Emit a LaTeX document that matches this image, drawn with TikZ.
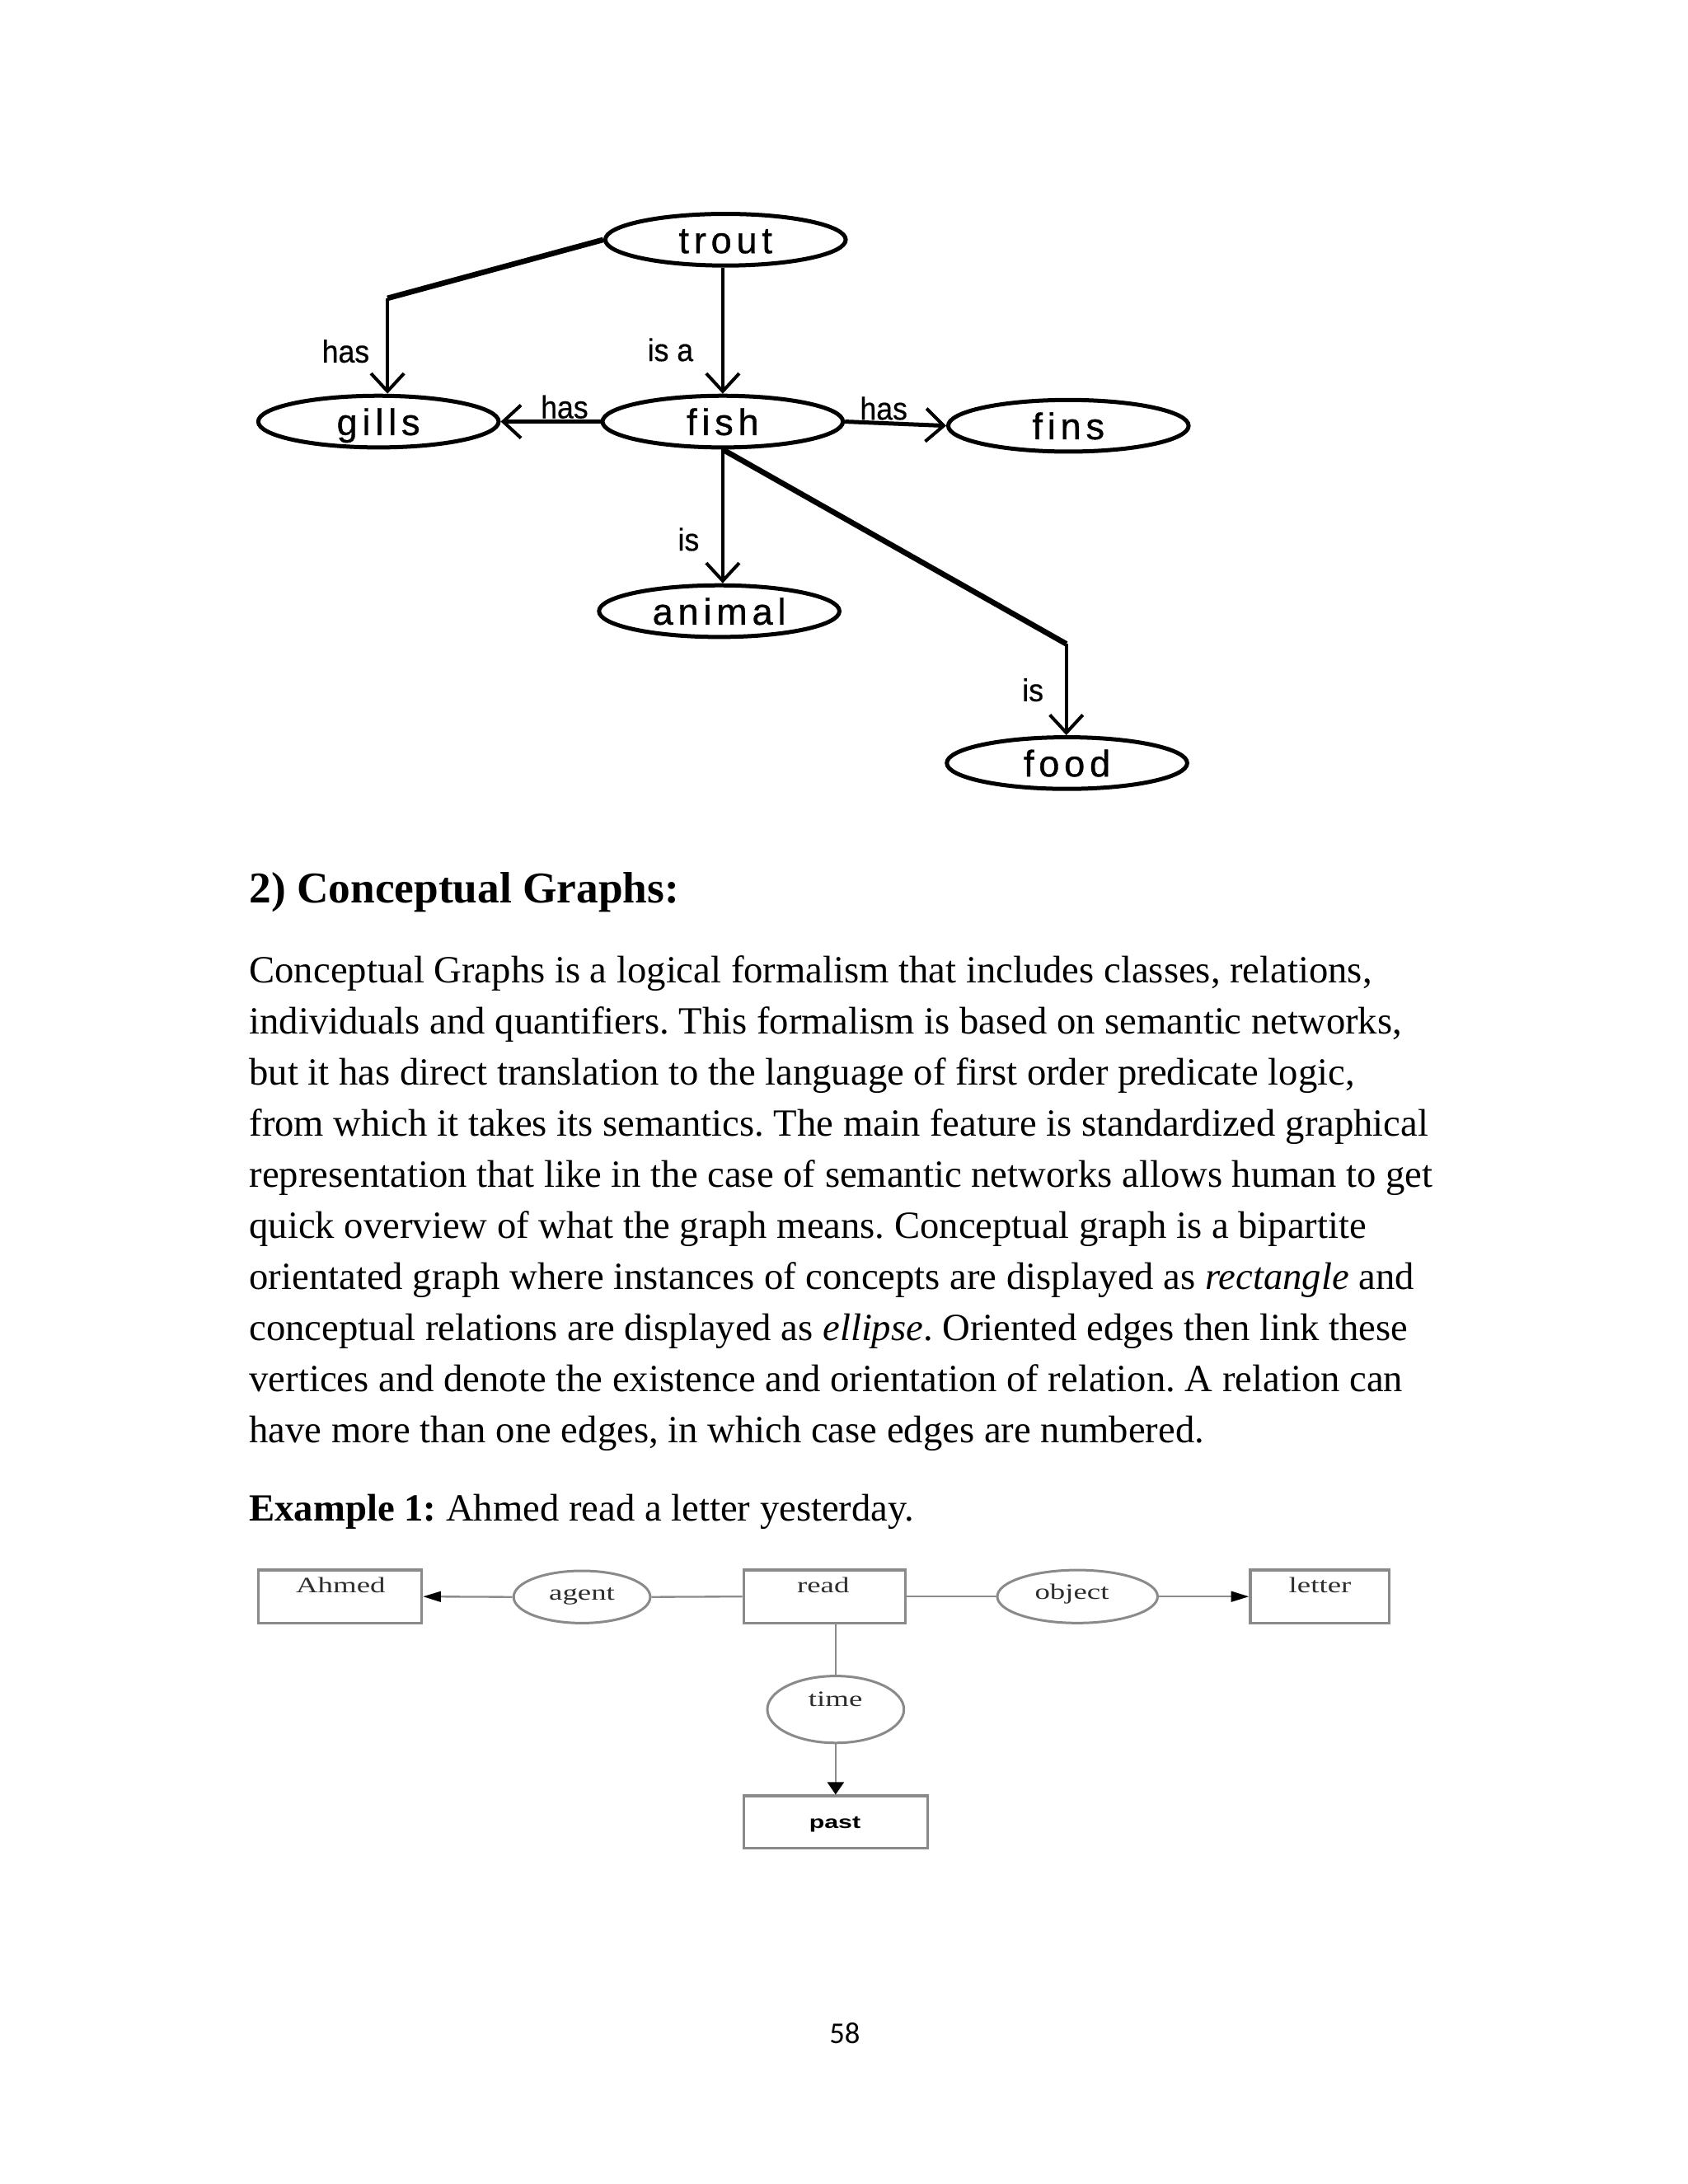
\documentclass[tikz,border=0pt]{standalone}
\usepackage{fontspec}
\setmainfont{Liberation Serif}
\newfontfamily\arialfont{Liberation Sans}
\newfontfamily\arialedge{Liberation Sans}[FakeStretch=0.93,FakeBold=0.4]
\newfontfamily\arialsp{Liberation Sans}[LetterSpace=13,FakeBold=0.8]
\newfontfamily\calfont{Carlito}
\usetikzlibrary{shapes.geometric,arrows.meta}
\definecolor{cgline}{HTML}{8C8C8C}
\definecolor{cgbox}{HTML}{8A8A8A}
\definecolor{cgtext}{HTML}{2E2E2E}
\def\du{0.50735pt}
\newcommand\widetxt[1]{\scalebox{1.38}[1]{#1}}
\frenchspacing
\begin{document}
\begin{tikzpicture}[x=0.50735pt,y=-0.50735pt,
  sem/.style={ellipse,draw=black,line width=1.5pt,inner sep=0pt,
    minimum width=87.5pt,minimum height=18.8pt,
    font=\arialsp\fontsize{13.5}{14}\selectfont,text height=9.8pt,text depth=0pt},
  semedge/.style={line width=1.1pt},
  semhor/.style={line width=1.5pt},
  semthick/.style={line width=2pt},
  barb/.style={-{Straight Barb[length=6.5pt,width=12pt,line width=1.2pt]}},
  elab/.style={font=\arialedge\fontsize{11.5}{12}\selectfont,inner sep=0pt},
  body/.style={anchor=base west,inner sep=0pt,font=\fontsize{14}{16}\selectfont},
  cgrect/.style={rectangle,draw=cgbox,line width=1pt,inner sep=0pt},
  cgell/.style={ellipse,draw=cgbox,line width=0.9pt,inner sep=0pt},
  cgconn/.style={draw=cgline,line width=0.7pt},
  cglab/.style={anchor=base,inner sep=0pt,text=cgtext,font=\fontsize{8}{9}\selectfont},
  harr/.style={-{Triangle[length=6.5pt,width=3.8pt,color=black]}},
  varr/.style={-{Triangle[length=4.5pt,width=6pt,color=black]}}
]
\fill[white] (0,0) rectangle (1211,1567);
\useasboundingbox (0,0) rectangle (1211,1567);

% ---------- semantic network ----------
\node[sem] (trout)  at (520.5,172)   {trout};
\node[sem] (fish)   at (518.5,302.5) {fish};
\node[sem] (gills)  at (271.5,302.5) {gills};
\node[sem] (fins)   at (766.5,305.5) {fins};
\node[sem] (animal) at (516,438.5)   {animal};
\node[sem] (food)   at (765.5,547.5) {food};

\coordinate (b1) at (278,214);
\coordinate (b2) at (765,462);
\draw[semthick] (trout.west) -- (b1);
\draw[semedge,barb] (b1) -- (b1 |- gills.north);
\draw[semedge,barb] (trout.south -| fish.north) -- (fish.north);
\draw[semhor,barb] (fish.west) -- (gills.east);
\draw[semhor,barb] (fish.east) -- (fins.west);
\draw[semedge,barb] (fish.south) -- (fish.south |- animal.north);
\draw[semthick] (fish.south) -- (b2);
\draw[semedge,barb] (b2) -- (b2 |- food.north);

\node[elab] (l1) at (248,252) {has};
\node[elab] (l2) at (481,251) {is a};
\node[elab] (l3) at (405,292) {has};
\node[elab] (l4) at (634,293) {has};
\node[elab] (l5) at (494,387) {is};
\node[elab] (l6) at (741,495) {is};

% ---------- text ----------
\node[anchor=base west,inner sep=0pt,font=\bfseries\fontsize{16}{18}\selectfont] (head) at (178.5,648) {2) Conceptual Graphs:};
\node[body] (p1)  at (178.5,705.3)  {Conceptual Graphs is a logical formalism that includes classes, relations,};
\node[body] (p2)  at (178.5,742.0)  {individuals and quantifiers. This formalism is based on semantic networks,};
\node[body] (p3)  at (178.5,778.6)  {but it has direct translation to the language of first order predicate logic,};
\node[body] (p4)  at (178.5,815.3)  {from which it takes its semantics. The main feature is standardized graphical};
\node[body] (p5)  at (178.5,851.9)  {representation that like in the case of semantic networks allows human to get};
\node[body] (p6)  at (178.5,888.6)  {quick overview of what the graph means. Conceptual graph is a bipartite};
\node[body] (p7)  at (178.5,925.2)  {orientated graph where instances of concepts are displayed as \textit{rectangle} and};
\node[body] (p8)  at (178.5,961.9)  {conceptual relations are displayed as \textit{ellipse}. Oriented edges then link these};
\node[body] (p9)  at (178.5,998.5)  {vertices and denote the existence and orientation of relation. A relation can};
\node[body] (p10) at (178.5,1035.2) {have more than one edges, in which case edges are numbered.};
\node[body] (ex)  at (178.5,1091)   {\textbf{Example 1:} Ahmed read a letter yesterday.};

% ---------- conceptual graph ----------
\node[cgrect,minimum width=117*\du,minimum height=38*\du] (ahmed)  at (244,1145.5)   {};
\node[cgell, minimum width=98*\du, minimum height=37.5*\du] (agent) at (417.5,1145.8) {};
\node[cgrect,minimum width=116*\du,minimum height=38*\du] (read)   at (591.5,1145.5) {};
\node[cgell, minimum width=115*\du,minimum height=38*\du] (object) at (773,1145.5)   {};
\node[cgrect,minimum width=99.5*\du,minimum height=38*\du] (letter) at (946.8,1145.5) {};
\node[cgell, minimum width=98*\du, minimum height=48*\du] (time)   at (599.5,1226.5) {};
\node[cgrect,minimum width=132*\du,minimum height=37.5*\du] (past) at (599.5,1307.3) {};

\node[cglab] (tahmed)  at (244.4,1143)  {\widetxt{Ahmed}};
\node[cglab] (tagent)  at (417.5,1147.8) {\widetxt{agent}};
\node[cglab] (tread)   at (590.6,1142.6) {\widetxt{read}};
\node[cglab] (tobject) at (769,1147.6)  {\widetxt{object}};
\node[cglab] (tletter) at (947,1142.6)  {\widetxt{letter}};
\node[cglab] (ttime)   at (599.4,1224.5) {\widetxt{time}};
\node[anchor=base,inner sep=0pt,font=\arialfont\bfseries\fontsize{6.5}{8}\selectfont] (tpast) at (599,1312) {\scalebox{1.4}[1]{past}};

\draw[cgconn,harr] (agent.west) -- (ahmed.east);
\draw[cgconn] (agent.east) -- (read.west);
\draw[cgconn] (read.east) -- (object.west);
\draw[cgconn,harr] (object.east) -- (letter.west);
\draw[cgconn] (read.south -| time.north) -- (time.north);
\draw[cgconn,varr] (time.south) -- (past.north);

% ---------- page number ----------
\node[anchor=base,inner sep=0pt,font=\calfont\fontsize{11}{12}\selectfont] (pnum) at (606,1466) {58};
\end{tikzpicture}
\end{document}
